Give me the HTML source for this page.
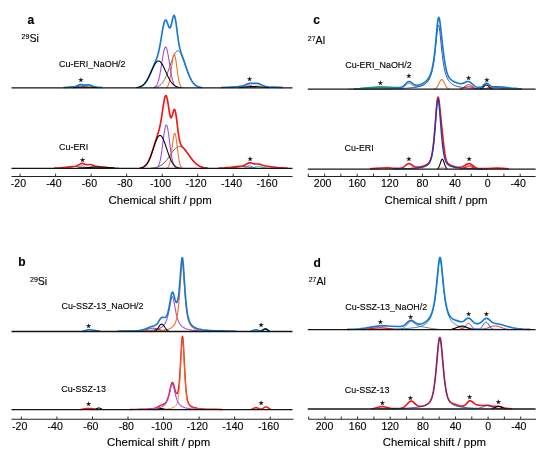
<!DOCTYPE html>
<html><head><meta charset="utf-8"><title>NMR spectra</title>
<style>
html,body{margin:0;padding:0;background:#fff;}
svg{display:block}
text{font-family:"Liberation Sans",Arial,sans-serif;fill:#000;stroke:#000;stroke-width:0.12px}
.tl{font-size:10.55px}
.ti{font-size:11.4px}
.pl{font-size:12px;font-weight:bold;fill:#000}
.iso{font-size:10.6px}
.sup{font-size:7.0px}
.sl{font-size:8.95px}
.st{font-family:"DejaVu Sans","Liberation Sans",sans-serif;font-size:6.4px;fill:#111}
</style></head><body>
<svg width="550" height="456" viewBox="0 0 550 456">
<rect width="550" height="456" fill="#fff"/>
<path d="M64.0 87.60L70.0 86.74L72.0 86.53L73.5 86.51L75.5 86.67L81.0 87.50L82.0 87.60" fill="none" stroke="#1fa03c" stroke-width="1.0" stroke-linejoin="round"/>
<path d="M76.0 87.53L77.0 87.22L79.0 86.30L79.5 86.10L80.0 85.96L80.5 85.90L81.0 85.93L81.5 86.04L82.0 86.21L84.0 87.14L85.0 87.48L85.5 87.59" fill="none" stroke="#d630c8" stroke-width="1.0" stroke-linejoin="round"/>
<path d="M84.0 87.59L85.0 87.35L86.0 86.97L87.5 86.34L88.0 86.20L88.5 86.11L89.0 86.11L89.5 86.17L90.0 86.31L92.0 87.13L93.0 87.46L93.5 87.58" fill="none" stroke="#e6d81c" stroke-width="1.0" stroke-linejoin="round"/>
<path d="M228.0 87.59L234.0 86.87L238.5 86.23L241.0 86.10L243.5 86.23L249.5 87.10L254.0 87.59" fill="none" stroke="#1fa03c" stroke-width="1.0" stroke-linejoin="round"/>
<path d="M242.5 87.61L243.5 87.41L244.5 87.09L245.5 86.65L247.5 85.64L248.0 85.44L248.5 85.29L249.0 85.21L249.5 85.21L250.0 85.27L250.5 85.40L251.0 85.59L253.5 86.84L254.5 87.24L255.5 87.50L256.0 87.59" fill="none" stroke="#d630c8" stroke-width="1.0" stroke-linejoin="round"/>
<path d="M251.5 87.58L252.5 87.37L253.5 87.04L256.0 85.89L256.5 85.69L257.0 85.53L257.5 85.43L258.0 85.40L258.5 85.43L259.0 85.53L259.5 85.69L262.5 87.04L263.5 87.37L264.5 87.58" fill="none" stroke="#e6d81c" stroke-width="1.0" stroke-linejoin="round"/>
<path d="M153.0 87.61L155.0 87.37L156.5 87.04L157.5 86.71L158.5 86.27L159.5 85.69L160.0 85.34L160.5 84.94L161.0 84.49L161.5 83.99L162.0 83.43L162.5 82.81L163.0 82.12L163.5 81.37L164.0 80.55L164.5 79.66L165.0 78.69L165.5 77.66L166.0 76.56L166.5 75.39L167.0 74.16L167.5 72.87L168.0 71.53L169.0 68.73L171.5 61.46L172.0 60.06L172.5 58.71L173.0 57.42L173.5 56.21L174.0 55.10L174.5 54.09L175.0 53.20L175.5 52.44L176.0 51.81L176.5 51.33L177.0 51L177.5 50.83L178.0 50.81L178.5 50.95L179.0 51.25L179.5 51.70L180.0 52.30L180.5 53.04L181.0 53.90L181.5 54.89L182.0 55.98L182.5 57.17L183.0 58.44L183.5 59.78L184.5 62.60L186.5 68.44L187.5 71.26L188.0 72.61L188.5 73.91L189.0 75.15L189.5 76.33L190.0 77.45L190.5 78.49L191.0 79.47L191.5 80.38L192.0 81.21L192.5 81.98L193.0 82.68L193.5 83.31L194.0 83.88L194.5 84.40L195.0 84.86L195.5 85.27L196.0 85.63L197.0 86.22L198.0 86.67L199.0 87.01L200.5 87.35L202.5 87.60" fill="none" stroke="#606060" stroke-width="1.0" stroke-linejoin="round"/>
<path d="M166.0 87.54L166.5 87.33L167.0 87L167.5 86.49L168.0 85.71L168.5 84.58L169.0 83.04L169.5 80.99L170.0 78.41L170.5 75.32L171.0 71.79L172.0 64.17L172.5 60.60L173.0 57.60L173.5 55.46L174.0 54.40L174.5 54.52L175.0 55.81L175.5 58.14L176.0 61.28L176.5 64.93L177.0 68.77L177.5 72.53L178.0 75.98L178.5 78.97L179.0 81.44L179.5 83.38L180.0 84.84L180.5 85.89L181.0 86.61L181.5 87.08L182.0 87.38L182.5 87.57" fill="none" stroke="#f27324" stroke-width="1.1" stroke-linejoin="round"/>
<path d="M153.5 87.53L154.0 87.39L154.5 87.20L155.0 86.93L155.5 86.56L156.0 86.06L156.5 85.40L157.0 84.56L157.5 83.48L158.0 82.15L158.5 80.53L159.0 78.61L159.5 76.38L160.0 73.85L160.5 71.05L161.0 68.03L161.5 64.85L162.0 61.62L162.5 58.44L163.0 55.43L163.5 52.72L164.0 50.42L164.5 48.66L165.0 47.50L165.5 47.01L166.0 47.22L166.5 48.12L167.0 49.65L167.5 51.74L168.0 54.30L168.5 57.21L169.0 60.33L170.0 66.77L170.5 69.86L171.0 72.76L171.5 75.41L172.0 77.76L172.5 79.80L173.0 81.54L173.5 82.98L174.0 84.15L174.5 85.09L175.0 85.82L175.5 86.38L176.0 86.79L176.5 87.10L177.0 87.32L177.5 87.48L178.0 87.59" fill="none" stroke="#a64fd6" stroke-width="1.1" stroke-linejoin="round"/>
<path d="M63.5 87.49L69.5 87.23L73.0 86.98L74.5 86.73L75.5 86.45L76.5 86.07L78.5 85.14L79.5 84.77L80.0 84.65L80.5 84.58L81.0 84.57L81.5 84.61L84.0 85.12L85.0 85.19L86.0 85.12L87.5 84.89L88.5 84.83L89.0 84.87L89.5 84.95L90.0 85.08L91.0 85.45L93.0 86.33L94.0 86.68L95.0 86.93L96.5 87.16L102.5 87.49M137.0 87.48L138.5 87.22L139.5 86.96L140.5 86.60L141.5 86.12L142.5 85.50L143.0 85.13L143.5 84.70L144.0 84.23L144.5 83.71L145.0 83.13L145.5 82.50L146.0 81.81L146.5 81.06L147.0 80.25L147.5 79.39L148.0 78.47L148.5 77.51L149.0 76.49L150.0 74.34L151.5 70.91L155.0 62.67L155.5 61.45L156.0 60.19L156.5 58.85L157.0 57.41L157.5 55.85L158.0 54.12L158.5 52.21L159.0 50.08L159.5 47.73L160.0 45.17L160.5 42.40L161.0 39.48L162.0 33.42L162.5 30.46L163.0 27.68L163.5 25.19L164.0 23.10L164.5 21.50L165.0 20.45L165.5 19.99L166.0 20.10L166.5 20.74L167.0 21.81L167.5 23.18L168.0 24.67L168.5 26.07L169.0 27.19L169.5 27.84L170.0 27.86L170.5 27.20L171.0 25.86L171.5 23.96L172.0 21.72L172.5 19.42L173.0 17.40L173.5 15.96L174.0 15.38L174.5 15.80L175.0 17.26L175.5 19.68L176.0 22.87L176.5 26.56L177.5 34.40L178.0 38.08L178.5 41.41L179.0 44.33L179.5 46.84L180.0 48.99L180.5 50.85L181.0 52.49L181.5 54L183.5 59.65L186.5 68.42L187.5 71.25L188.0 72.60L188.5 73.90L189.0 75.15L189.5 76.33L190.0 77.44L190.5 78.49L191.0 79.46L191.5 80.37L192.0 81.21L192.5 81.97L193.0 82.67L193.5 83.30L194.0 83.88L194.5 84.39L195.0 84.85L195.5 85.26L196.0 85.62L197.0 86.21L198.0 86.66L199.0 86.99L200.5 87.33L201.5 87.47M221.0 87.49L227.0 87.28L233.0 87.01L239.0 86.65L241.0 86.38L242.5 86.01L244.0 85.46L247.0 84.07L248.0 83.69L249.0 83.43L250.0 83.31L254.5 83.38L256.5 83.33L257.5 83.39L258.5 83.58L259.5 83.90L263.5 85.74L264.5 86.10L266.0 86.49L268.0 86.78L274.0 87.15L280.0 87.39L283.0 87.49" fill="none" stroke="#1479d3" stroke-width="1.65" stroke-linejoin="round"/>
<path d="M73.0 87.61L79.0 87.19L84.5 86.90L90.5 87.15L96.5 87.59L97.0 87.61M136.0 87.59L138.0 87.32L139.0 87.10L140.0 86.80L141.0 86.38L142.0 85.83L142.5 85.50L143.0 85.13L143.5 84.70L144.0 84.23L144.5 83.71L145.0 83.14L145.5 82.50L146.0 81.81L146.5 81.07L147.0 80.26L147.5 79.41L148.0 78.49L148.5 77.53L149.5 75.48L152.5 68.83L153.0 67.75L153.5 66.72L154.0 65.73L154.5 64.81L155.0 63.97L155.5 63.22L156.0 62.56L156.5 62.01L157.0 61.57L157.5 61.26L158.0 61.06L158.5 61L159.0 61.06L159.5 61.26L160.0 61.57L160.5 62.01L161.0 62.56L161.5 63.22L162.0 63.97L162.5 64.81L163.0 65.73L163.5 66.72L164.0 67.75L165.0 69.93L167.0 74.40L168.0 76.53L168.5 77.53L169.0 78.49L169.5 79.41L170.0 80.26L170.5 81.07L171.0 81.81L171.5 82.50L172.0 83.14L172.5 83.71L173.0 84.23L173.5 84.70L174.0 85.13L174.5 85.50L175.5 86.13L176.5 86.60L177.5 86.96L179.0 87.32L181.0 87.59M239.0 87.61L245.0 87.15L251.0 86.60L255.0 86.51L261.0 86.95L267.0 87.49L269.0 87.61" fill="none" stroke="#000000" stroke-width="1.05" stroke-linejoin="round"/>
<path d="M11.5 87.80H292.5" stroke="#151515" stroke-width="1.3" fill="none"/>
<path d="M63.5 168.18L66.5 167.82L72.5 166.69L74.0 166.53L75.5 166.51L77.0 166.62L83.0 167.74L86.5 168.18" fill="none" stroke="#1fa03c" stroke-width="1.0" stroke-linejoin="round"/>
<path d="M77.0 168.14L77.5 167.99L78.0 167.80L78.5 167.55L80.5 166.28L81.0 166.03L81.5 165.86L82.0 165.80L82.5 165.86L83.0 166.03L83.5 166.28L85.0 167.26L85.5 167.55L86.0 167.80L86.5 167.99L87.0 168.14" fill="none" stroke="#d630c8" stroke-width="1.0" stroke-linejoin="round"/>
<path d="M82.0 168.20L88.0 167.50L91.5 167.03L93.5 166.91L95.5 166.95L101.5 167.72L106.0 168.20" fill="none" stroke="#19b4c4" stroke-width="1.0" stroke-linejoin="round"/>
<path d="M229.5 168.20L234.0 167.70L240.0 166.70L242.0 166.52L244.0 166.52L246.5 166.77L252.5 167.78L256.5 168.20" fill="none" stroke="#1fa03c" stroke-width="1.0" stroke-linejoin="round"/>
<path d="M244.0 168.17L244.5 168.05L245.0 167.89L245.5 167.69L246.5 167.16L248.0 166.27L248.5 166.03L249.0 165.87L249.5 165.80L250.0 165.83L250.5 165.96L251.0 166.16L253.0 167.33L253.5 167.59L254.0 167.81L254.5 167.99L255.0 168.12" fill="none" stroke="#a64fd6" stroke-width="1.0" stroke-linejoin="round"/>
<path d="M249.5 168.20L251.5 167.91L256.5 166.70L257.5 166.55L258.5 166.50L259.5 166.55L261.0 166.80L265.0 167.81L267.0 168.14L267.5 168.20" fill="none" stroke="#19b4c4" stroke-width="1.0" stroke-linejoin="round"/>
<path d="M151.0 168.20L154.0 167.88L156.0 167.49L157.5 167.06L159.0 166.47L160.0 165.96L161.0 165.37L162.0 164.67L163.0 163.86L164.0 162.94L165.0 161.91L166.0 160.77L167.0 159.54L168.5 157.54L172.0 152.60L173.0 151.26L174.0 150.02L175.0 148.91L175.5 148.42L176.0 147.97L176.5 147.58L177.0 147.24L177.5 146.95L178.0 146.72L178.5 146.55L179.0 146.45L179.5 146.40L180.0 146.42L180.5 146.50L181.0 146.65L181.5 146.85L182.0 147.11L182.5 147.43L183.0 147.81L183.5 148.24L184.0 148.71L185.0 149.78L186.0 151L187.5 153.01L191.0 157.95L192.5 159.92L193.5 161.13L194.5 162.23L195.5 163.23L196.5 164.12L197.5 164.89L198.5 165.56L199.5 166.12L200.5 166.60L202.0 167.16L203.5 167.57L205.5 167.93L208.5 168.22" fill="none" stroke="#606060" stroke-width="1.0" stroke-linejoin="round"/>
<path d="M166.5 168.20L167.0 168.03L167.5 167.75L168.0 167.29L168.5 166.58L169.0 165.52L169.5 164.01L170.0 161.98L170.5 159.35L171.0 156.14L171.5 152.40L172.0 148.32L172.5 144.15L173.0 140.22L173.5 136.90L174.0 134.50L174.5 133.31L175.0 133.44L175.5 134.89L176.0 137.50L176.5 140.97L177.0 144.98L177.5 149.16L178.0 153.18L178.5 156.82L179.0 159.93L179.5 162.43L180.0 164.35L180.5 165.76L181.0 166.74L181.5 167.40L182.0 167.82L182.5 168.08" fill="none" stroke="#f27324" stroke-width="1.1" stroke-linejoin="round"/>
<path d="M155.5 168.19L156.0 168.05L156.5 167.85L157.0 167.56L157.5 167.12L158.0 166.52L158.5 165.68L159.0 164.56L159.5 163.11L160.0 161.27L160.5 159.01L161.0 156.31L161.5 153.18L162.0 149.67L162.5 145.87L163.5 137.97L164.0 134.22L164.5 130.87L165.0 128.12L165.5 126.15L166.0 125.08L166.5 124.98L167.0 125.86L167.5 127.66L168.0 130.27L168.5 133.51L169.0 137.20L169.5 141.12L170.0 145.09L170.5 148.93L171.0 152.50L171.5 155.71L172.0 158.50L172.5 160.85L173.0 162.78L173.5 164.30L174.0 165.48L174.5 166.37L175.0 167.02L175.5 167.48L176.0 167.80L176.5 168.02L177.0 168.16" fill="none" stroke="#a64fd6" stroke-width="1.1" stroke-linejoin="round"/>
<path d="M54.0 168.10L60.0 167.75L66.0 167.20L72.0 166.56L75.0 166.20L76.0 166.02L77.0 165.74L78.0 165.31L80.5 163.85L81.0 163.62L81.5 163.47L82.0 163.39L82.5 163.41L83.0 163.51L83.5 163.67L85.0 164.30L85.5 164.47L86.0 164.60L86.5 164.67L87.0 164.70L89.5 164.50L90.5 164.54L91.5 164.74L95.0 166.03L96.5 166.44L102.5 167.26L108.5 167.78L114.0 168.10M140.0 168.07L141.0 167.88L142.0 167.61L143.0 167.21L143.5 166.96L144.0 166.66L144.5 166.32L145.0 165.92L145.5 165.46L146.0 164.93L146.5 164.33L147.0 163.66L147.5 162.90L148.0 162.06L148.5 161.14L149.0 160.13L149.5 159.03L150.0 157.85L150.5 156.58L151.0 155.24L151.5 153.82L152.0 152.35L153.0 149.26L155.5 141.27L157.5 135.08L158.0 133.49L158.5 131.81L159.0 130.01L159.5 128.03L160.0 125.84L160.5 123.38L161.0 120.65L161.5 117.66L162.0 114.43L163.0 107.63L163.5 104.33L164.0 101.32L164.5 98.78L165.0 96.88L165.5 95.78L166.0 95.57L166.5 96.28L167.0 97.89L167.5 100.26L168.0 103.21L169.0 109.80L169.5 112.82L170.0 115.29L170.5 116.95L171.0 117.67L171.5 117.44L172.0 116.36L172.5 114.69L173.0 112.77L173.5 110.99L174.0 109.77L174.5 109.41L175.0 110.11L175.5 111.93L176.0 114.75L176.5 118.35L177.0 122.40L177.5 126.60L178.0 130.63L178.5 134.29L179.0 137.43L179.5 140.01L180.0 142.04L180.5 143.60L181.0 144.78L181.5 145.69L182.0 146.41L182.5 147.01L184.5 149.17L185.5 150.35L186.5 151.64L191.0 157.95L192.5 159.92L193.5 161.12L194.5 162.23L195.5 163.23L196.5 164.11L197.5 164.88L198.5 165.55L199.5 166.11L200.5 166.58L202.0 167.14L203.5 167.54L205.5 167.89L207.5 168.09M218.5 168.09L224.5 167.77L230.5 167.27L236.5 166.62L241.5 166.01L243.0 165.70L244.0 165.39L245.0 164.96L247.5 163.53L248.0 163.27L248.5 163.06L249.0 162.90L249.5 162.81L250.0 162.78L250.5 162.82L251.0 162.92L253.5 163.68L254.5 163.86L258.0 163.99L259.0 164.15L260.5 164.56L263.5 165.57L265.5 166.05L271.5 166.84L277.5 167.45L283.5 167.90L287.5 168.09" fill="none" stroke="#f21515" stroke-width="1.65" stroke-linejoin="round"/>
<path d="M79.0 168.20L85.0 167.86L91.0 167.37L97.0 167.03L103.0 167.10L109.0 167.53L115.0 167.99L119.0 168.20M139.0 168.20L140.5 167.99L141.5 167.76L142.5 167.44L143.5 166.97L144.0 166.68L144.5 166.34L145.0 165.94L145.5 165.48L146.0 164.96L146.5 164.37L147.0 163.71L147.5 162.96L148.0 162.14L148.5 161.23L149.0 160.23L149.5 159.15L150.0 157.99L150.5 156.75L151.0 155.44L151.5 154.06L152.0 152.63L154.5 145.12L155.0 143.67L155.5 142.28L156.0 140.96L156.5 139.75L157.0 138.66L157.5 137.70L158.0 136.89L158.5 136.25L159.0 135.78L159.5 135.50L160.0 135.40L160.5 135.50L161.0 135.78L161.5 136.25L162.0 136.89L162.5 137.70L163.0 138.66L163.5 139.75L164.0 140.96L164.5 142.28L165.0 143.67L165.5 145.12L167.5 151.16L168.0 152.63L168.5 154.06L169.0 155.44L169.5 156.75L170.0 157.99L170.5 159.15L171.0 160.23L171.5 161.23L172.0 162.14L172.5 162.96L173.0 163.71L173.5 164.37L174.0 164.96L174.5 165.48L175.0 165.94L175.5 166.34L176.0 166.68L176.5 166.97L177.5 167.44L178.5 167.76L180.0 168.07L181.0 168.20" fill="none" stroke="#000000" stroke-width="1.05" stroke-linejoin="round"/>
<path d="M11.5 168.40H292.5" stroke="#151515" stroke-width="1.3" fill="none"/>
<path d="M138.5 331.32L141.0 331.05L143.0 330.68L149.0 328.84L150.5 328.46L151.5 328.29L152.5 328.21L153.5 328.22L154.5 328.32L156.0 328.62L162.0 330.48L164.0 330.92L166.5 331.26L167.0 331.30" fill="none" stroke="#5a2a3a" stroke-width="0.9" stroke-linejoin="round"/>
<path d="M119.5 331.30L125.5 331.25L131.5 331.17L137.5 331.04L143.5 330.84L149.5 330.46L154.0 329.91L156.5 329.40L158.0 328.97L159.5 328.40L160.5 327.90L161.5 327.29L162.0 326.93L162.5 326.52L163.0 326.05L163.5 325.52L164.0 324.92L164.5 324.23L165.0 323.44L165.5 322.53L166.0 321.47L166.5 320.25L167.0 318.83L167.5 317.20L168.0 315.31L168.5 313.16L169.0 310.73L169.5 308.08L170.5 302.48L171.0 299.93L171.5 297.94L172.0 296.80L172.5 296.69L173.0 297.64L173.5 299.48L174.0 301.94L174.5 304.71L175.0 307.52L175.5 310.22L176.0 312.69L176.5 314.90L177.0 316.84L177.5 318.53L178.0 319.98L178.5 321.24L179.0 322.33L179.5 323.27L180.0 324.08L180.5 324.79L181.0 325.41L181.5 325.95L182.0 326.43L182.5 326.85L183.0 327.22L184.0 327.85L185.0 328.35L186.5 328.93L188.5 329.49L192.0 330.12L198.0 330.67L204.0 330.95L210.0 331.11L216.0 331.21L222.0 331.28L225.0 331.30" fill="none" stroke="#a64fd6" stroke-width="1.1" stroke-linejoin="round"/>
<path d="M135.5 331.28L141.5 331.21L147.5 331.10L153.5 330.92L159.5 330.59L164.0 330.10L166.5 329.63L168.0 329.24L169.5 328.70L170.5 328.24L171.5 327.65L172.0 327.29L172.5 326.89L173.0 326.42L173.5 325.87L174.0 325.22L174.5 324.45L175.0 323.52L175.5 322.37L176.0 320.94L176.5 319.15L177.0 316.91L177.5 314.09L178.0 310.58L178.5 306.26L179.0 301.05L179.5 294.91L180.0 287.93L180.5 280.39L181.0 272.96L181.5 266.69L182.0 262.87L182.5 262.50L183.0 265.69L183.5 271.57L184.0 278.87L184.5 286.45L185.0 293.58L185.5 299.90L186.0 305.30L186.5 309.78L187.0 313.45L187.5 316.39L188.0 318.75L188.5 320.62L189.0 322.11L189.5 323.31L190.0 324.28L190.5 325.08L191.0 325.75L191.5 326.31L192.0 326.80L192.5 327.22L193.0 327.58L194.0 328.19L195.0 328.66L196.5 329.21L198.5 329.72L202.5 330.34L208.5 330.81L214.5 331.04L220.5 331.17L226.5 331.25L229.0 331.28" fill="none" stroke="#f27324" stroke-width="1.2" stroke-linejoin="round"/>
<path d="M82.5 331.20L84.0 330.92L87.0 330.05L88.0 329.84L89.0 329.75L90.0 329.78L96.0 330.69L99.5 331.13L100.0 331.17M117.5 331.20L123.5 331.13L129.5 331.02L135.5 330.83L139.0 330.53L141.5 330.11L143.5 329.58L146.0 328.66L150.0 327.02L154.0 325.81L154.5 325.63L155.0 325.41L155.5 325.12L156.0 324.77L156.5 324.33L157.0 323.80L157.5 323.18L158.0 322.47L159.5 320.07L160.0 319.31L160.5 318.63L161.0 318.07L161.5 317.65L162.0 317.39L162.5 317.28L163.0 317.28L164.0 317.45L164.5 317.51L165.0 317.46L165.5 317.25L166.0 316.82L166.5 316.13L167.0 315.14L167.5 313.81L168.0 312.13L168.5 310.09L169.0 307.69L169.5 304.98L170.0 302.05L170.5 299.08L171.0 296.31L171.5 294.03L172.0 292.55L172.5 292.05L173.0 292.54L173.5 293.84L174.0 295.66L174.5 297.65L175.0 299.54L175.5 301.09L176.0 302.13L176.5 302.55L177.0 302.25L177.5 301.11L178.0 299.06L178.5 296.01L179.0 291.88L179.5 286.68L180.0 280.51L181.0 266.87L181.5 261.14L182.0 257.79L182.5 257.85L183.0 261.41L183.5 267.63L184.0 275.22L184.5 283.06L185.0 290.43L185.5 296.96L186.0 302.55L186.5 307.22L187.0 311.04L187.5 314.13L188.0 316.62L188.5 318.61L189.0 320.22L189.5 321.52L190.0 322.59L190.5 323.47L191.0 324.22L191.5 324.86L192.0 325.42L192.5 325.90L193.0 326.33L193.5 326.70L194.5 327.34L195.5 327.86L197.0 328.46L199.0 329.06L202.5 329.74L208.5 330.38L214.5 330.73L220.5 330.93L226.5 331.07L232.5 331.16L236.5 331.20M250.5 331.16L251.5 331L252.5 330.73L254.5 330.06L255.0 329.94L255.5 329.86L256.0 329.83L256.5 329.86L257.0 329.95L259.5 330.71L260.0 330.81L260.5 330.85L261.0 330.83L261.5 330.73L262.0 330.54L262.5 330.28L264.0 329.26L264.5 328.98L265.0 328.81L265.5 328.77L266.0 328.87L266.5 329.10L267.0 329.41L268.0 330.14L268.5 330.48L269.0 330.76L269.5 330.97L270.0 331.13" fill="none" stroke="#1479d3" stroke-width="1.65" stroke-linejoin="round"/>
<path d="M154.0 331.24L154.5 331.11L155.0 330.92L155.5 330.66L156.0 330.32L156.5 329.90L157.0 329.38L157.5 328.77L158.0 328.09L159.5 325.87L160.0 325.22L160.5 324.68L161.0 324.30L161.5 324.12L162.0 324.14L162.5 324.36L163.0 324.77L163.5 325.34L164.0 326.01L165.5 328.23L166.0 328.90L166.5 329.49L167.0 329.99L167.5 330.40L168.0 330.72L168.5 330.96L169.0 331.14L169.5 331.26M261.0 331.20L261.5 331.02L262.0 330.78L262.5 330.48L264.0 329.41L264.5 329.12L265.0 328.95L265.5 328.90L266.0 329L266.5 329.23L267.0 329.54L268.0 330.27L268.5 330.60L269.0 330.88L269.5 331.10L270.0 331.25" fill="none" stroke="#000000" stroke-width="1.05" stroke-linejoin="round"/>
<path d="M11.5 331.50H292.5" stroke="#151515" stroke-width="1.3" fill="none"/>
<path d="M80.5 409.44L86.5 408.49L88.0 408.35L89.5 408.35L91.5 408.58L96.0 409.32L97.0 409.42M129.5 409.44L135.5 409.35L141.5 409.21L147.5 408.97L153.0 408.54L154.5 408.31L155.5 408.07L156.5 407.72L157.5 407.23L160.0 405.67L161.0 405.15L163.5 404.26L164.0 404.02L164.5 403.70L165.0 403.29L165.5 402.76L166.0 402.10L166.5 401.28L167.0 400.30L167.5 399.13L168.0 397.75L168.5 396.13L169.0 394.28L169.5 392.21L170.0 389.97L170.5 387.67L171.0 385.52L171.5 383.77L172.0 382.68L172.5 382.43L173.0 383.03L173.5 384.32L174.0 386.04L174.5 387.92L175.0 389.73L175.5 391.30L176.0 392.53L176.5 393.32L177.0 393.56L177.5 393.08L178.0 391.68L178.5 389.11L179.0 385.11L179.5 379.50L180.0 372.23L180.5 363.57L181.0 354.15L181.5 345.22L182.0 338.60L182.5 336.26L183.0 339.12L183.5 346.28L184.0 355.77L184.5 365.78L185.0 375.08L185.5 383.04L186.0 389.42L186.5 394.28L187.0 397.83L187.5 400.34L188.0 402.10L188.5 403.34L189.0 404.23L189.5 404.90L190.0 405.43L190.5 405.85L191.0 406.21L191.5 406.51L192.5 407.01L193.5 407.39L195.0 407.82L198.0 408.38L204.0 408.93L210.0 409.19L216.0 409.34L222.0 409.43L222.5 409.44M250.5 409.41L251.5 409.20L252.5 408.87L254.5 408.01L255.0 407.85L255.5 407.75L256.0 407.71L256.5 407.75L257.0 407.85L258.0 408.21L259.5 408.82L260.0 408.97L260.5 409.05L261.0 409.07L261.5 409.02L262.0 408.88L262.5 408.67L263.0 408.40L264.5 407.42L265.0 407.16L265.5 406.99L266.0 406.93L266.5 406.99L267.0 407.17L267.5 407.44L269.0 408.45L269.5 408.76L270.0 409.01L270.5 409.22L271.0 409.37" fill="none" stroke="#f21515" stroke-width="1.45" stroke-linejoin="round"/>
<path d="M146.0 409.55L152.0 409.49L158.0 409.38L164.0 409.14L168.5 408.74L170.5 408.40L172.0 408.02L173.0 407.67L174.0 407.20L174.5 406.89L175.0 406.52L175.5 406.06L176.0 405.46L176.5 404.63L177.0 403.48L177.5 401.80L178.0 399.39L178.5 395.94L179.0 391.20L179.5 384.94L180.0 377.12L180.5 367.98L181.0 358.15L181.5 348.85L182.0 341.91L182.5 339.30L183.0 341.91L183.5 348.85L184.0 358.15L184.5 367.98L185.0 377.12L185.5 384.94L186.0 391.20L186.5 395.94L187.0 399.39L187.5 401.80L188.0 403.48L188.5 404.63L189.0 405.46L189.5 406.06L190.0 406.52L190.5 406.89L191.0 407.20L192.0 407.67L193.0 408.02L194.5 408.40L197.5 408.86L203.5 409.26L209.5 409.44L215.5 409.52L219.0 409.55" fill="none" stroke="#f27324" stroke-width="0.8" stroke-linejoin="round"/>
<path d="M130.0 409.50L136.0 409.43L142.0 409.32L148.0 409.11L154.0 408.67L157.0 408.25L159.0 407.82L160.5 407.36L161.5 406.96L162.5 406.44L163.0 406.13L163.5 405.78L164.0 405.38L164.5 404.91L165.0 404.38L165.5 403.75L166.0 403.03L166.5 402.18L167.0 401.19L167.5 400.04L168.0 398.68L168.5 397.12L169.0 395.33L169.5 393.33L170.5 388.98L171.0 386.94L171.5 385.31L172.0 384.36L172.5 384.27L173.0 385.06L173.5 386.57L174.0 388.55L175.0 392.91L175.5 394.94L176.0 396.78L176.5 398.39L177.0 399.78L177.5 400.98L178.0 402L178.5 402.87L179.0 403.62L179.5 404.26L180.0 404.81L180.5 405.29L181.0 405.70L181.5 406.07L182.5 406.66L183.5 407.13L185.0 407.66L187.0 408.14L191.0 408.71L197.0 409.13L203.0 409.33L209.0 409.44L214.5 409.50" fill="none" stroke="#a64fd6" stroke-width="1.1" stroke-linejoin="round"/>
<path d="M94.5 409.48L95.0 409.36L96.0 408.99L97.5 408.29L98.0 408.12L98.5 408.02L99.0 408.01L99.5 408.09L100.0 408.25L102.0 409.15L102.5 409.33L103.0 409.46M156.5 409.45L159.5 408.69L160.5 408.52L161.0 408.50L161.5 408.52L162.5 408.69L165.0 409.35L165.5 409.45" fill="none" stroke="#000000" stroke-width="1.05" stroke-linejoin="round"/>
<path d="M11.5 409.70H292.5" stroke="#151515" stroke-width="1.3" fill="none"/>
<path d="M348.3 89.07L354.3 89.06L360.3 89.03L366.3 89L372.3 88.97L378.3 88.92L384.3 88.85L390.3 88.76L396.3 88.62L399.3 88.46L400.3 88.32L401.3 88.10L402.3 87.74L402.8 87.51L403.3 87.22L403.8 86.90L404.8 86.14L406.3 84.87L406.8 84.48L407.3 84.13L407.8 83.86L408.3 83.66L408.8 83.56L409.3 83.55L409.8 83.63L410.3 83.80L410.8 84.04L411.8 84.66L413.3 85.68L413.8 85.97L414.3 86.22L414.8 86.43L415.3 86.58L415.8 86.69L416.8 86.79L417.8 86.74L418.8 86.59L420.3 86.23L421.8 85.71L422.8 85.29L423.8 84.77L424.8 84.16L425.8 83.41L426.3 82.97L426.8 82.48L427.3 81.94L427.8 81.33L428.3 80.64L428.8 79.87L429.3 78.99L429.8 78" fill="none" stroke="#606060" stroke-width="0.7" stroke-linejoin="round"/>
<path d="M459.8 88.95L460.8 88.73L461.8 88.38L462.8 87.88L463.8 87.23L465.8 85.72L466.3 85.38L466.8 85.08L467.3 84.85L467.8 84.69L468.3 84.61L468.8 84.62L469.3 84.71L469.8 84.89L470.3 85.14L470.8 85.45L473.3 87.30L474.3 87.93L475.3 88.42L476.3 88.75L477.3 88.96" fill="none" stroke="#f21515" stroke-width="1.0" stroke-linejoin="round"/>
<path d="M460.3 88.99L461.3 88.82L462.3 88.56L463.3 88.21L466.3 86.87L467.3 86.55L467.8 86.45L468.3 86.40L468.8 86.41L469.3 86.47L469.8 86.58L470.8 86.91L473.8 88.25L474.8 88.59L475.8 88.84L476.8 89" fill="none" stroke="#f21515" stroke-width="1.0" stroke-linejoin="round"/>
<path d="M479.3 89.03L484.3 88.55L490.3 87.65L492.8 87.43L495.3 87.43L499.3 87.87L505.3 88.75L508.8 89.03" fill="none" stroke="#f21515" stroke-width="0.9" stroke-linejoin="round"/>
<path d="M434.3 88.96L434.8 88.81L435.3 88.60L435.8 88.30L436.3 87.88L436.8 87.34L437.3 86.66L437.8 85.84L438.3 84.90L439.8 81.82L440.3 80.92L440.8 80.21L441.3 79.76L441.8 79.60L442.3 79.76L442.8 80.21L443.3 80.92L443.8 81.82L445.3 84.90L445.8 85.84L446.3 86.66L446.8 87.34L447.3 87.88L447.8 88.30L448.3 88.60L448.8 88.81L449.3 88.96" fill="none" stroke="#f27324" stroke-width="1.1" stroke-linejoin="round"/>
<path d="M359.3 89.04L365.3 89.01L371.3 88.97L377.3 88.93L383.3 88.86L389.3 88.78L395.3 88.65L401.3 88.47L407.3 88.16L413.3 87.62L417.3 86.99L419.8 86.39L421.3 85.91L422.8 85.29L423.8 84.77L424.8 84.16L425.8 83.41L426.3 82.97L426.8 82.48L427.3 81.94L427.8 81.33L428.3 80.64L428.8 79.87L429.3 78.99L429.8 78L430.3 76.86L430.8 75.56L431.3 74.06L431.8 72.33L432.3 70.33L432.8 68.02L433.3 65.33L433.8 62.23L434.3 58.66L434.8 54.60L435.3 50.05L435.8 45.10L436.3 39.91L436.8 34.82L437.3 30.30L437.8 26.91L438.3 25.16L438.8 25.36L439.3 27.47L439.8 31.13L440.3 35.81L441.3 46.11L441.8 51L442.3 55.45L442.8 59.42L443.3 62.89L443.8 65.90L444.3 68.51L444.8 70.76L445.3 72.70L445.8 74.38L446.3 75.83L446.8 77.10L447.3 78.21L447.8 79.18L448.3 80.03L448.8 80.79L449.3 81.46L449.8 82.05L450.3 82.58L450.8 83.06L451.3 83.49L452.3 84.22L453.3 84.83L454.3 85.33L455.8 85.94L457.8 86.56L461.3 87.28L467.3 87.99L473.3 88.36L479.3 88.59L485.3 88.73L491.3 88.83L497.3 88.90L503.3 88.96L509.3 89L515.8 89.03L517.8 89.04" fill="none" stroke="#1f3fb0" stroke-width="0.9" stroke-linejoin="round"/>
<path d="M353.8 88.90L359.8 88.61L365.8 88.12L371.8 87.54L377.8 87.12L383.8 87.07L389.8 87.33L395.8 87.60L398.8 87.58L399.8 87.49L400.8 87.30L401.3 87.16L401.8 86.98L402.3 86.74L402.8 86.46L403.3 86.12L403.8 85.73L404.3 85.28L406.3 83.23L406.8 82.74L407.3 82.32L407.8 81.97L408.3 81.72L408.8 81.58L409.3 81.55L409.8 81.64L410.3 81.83L410.8 82.11L411.3 82.46L413.3 84.03L413.8 84.37L414.3 84.66L414.8 84.89L415.3 85.07L415.8 85.19L416.3 85.26L416.8 85.28L417.8 85.19L418.8 84.99L420.3 84.53L421.8 83.91L422.8 83.41L423.8 82.83L424.8 82.14L425.8 81.33L426.3 80.86L426.8 80.34L427.3 79.76L427.8 79.12L428.3 78.41L428.8 77.60L429.3 76.70L429.8 75.67L430.3 74.51L430.8 73.18L431.3 71.65L431.8 69.89L432.3 67.86L432.8 65.50L433.3 62.76L433.8 59.57L434.3 55.89L434.8 51.66L435.3 46.88L435.8 41.59L436.8 30.32L437.3 25.10L437.8 20.87L438.3 18.16L438.8 17.32L439.3 18.35L439.8 20.98L440.3 24.74L440.8 29.14L441.8 38.52L442.3 43.11L442.8 47.49L443.3 51.64L443.8 55.51L444.3 59.09L444.8 62.36L445.3 65.28L445.8 67.85L446.3 70.09L446.8 71.99L447.3 73.60L447.8 74.94L448.3 76.06L448.8 76.99L449.3 77.76L449.8 78.42L450.3 78.98L450.8 79.46L451.3 79.88L452.3 80.59L453.3 81.19L454.8 81.92L456.8 82.73L458.3 83.21L459.3 83.45L460.3 83.59L461.3 83.59L461.8 83.54L462.3 83.44L463.3 83.13L465.8 81.97L466.3 81.77L466.8 81.60L467.3 81.50L467.8 81.46L468.3 81.49L468.8 81.61L469.3 81.80L469.8 82.07L470.3 82.40L471.3 83.21L473.3 85.01L474.3 85.79L474.8 86.12L475.3 86.41L475.8 86.66L476.8 87.04L477.8 87.27L478.8 87.37L479.8 87.33L480.3 87.25L480.8 87.11L481.3 86.92L481.8 86.65L482.3 86.31L482.8 85.90L484.3 84.44L484.8 83.99L485.3 83.62L485.8 83.37L486.3 83.26L486.8 83.30L487.3 83.49L487.8 83.80L488.3 84.19L489.8 85.47L490.3 85.83L490.8 86.13L491.3 86.36L491.8 86.53L492.3 86.65L493.3 86.77L499.3 86.91L505.3 87.44L511.3 88.13L517.8 88.69L521.8 88.89" fill="none" stroke="#1479d3" stroke-width="1.65" stroke-linejoin="round"/>
<path d="M354.3 88.95L360.3 88.63L366.3 88.13L372.3 87.62L378.3 87.32L384.3 87.41L390.3 87.83L396.3 88.36L397.8 88.48" fill="none" stroke="#1fa03c" stroke-width="1.3" stroke-linejoin="round"/>
<path d="M480.3 88.94L480.8 88.79L481.3 88.59L481.8 88.32L482.3 87.98L482.8 87.57L484.3 86.11L484.8 85.67L485.3 85.31L485.8 85.08L486.3 85L486.8 85.08L487.3 85.31L487.8 85.67L488.3 86.11L489.8 87.57L490.3 87.98L490.8 88.32L491.3 88.59L491.8 88.79L492.3 88.94" fill="none" stroke="#000000" stroke-width="1.05" stroke-linejoin="round"/>
<path d="M307.8 89.20H535.6" stroke="#151515" stroke-width="1.3" fill="none"/>
<path d="M437.8 168.93L438.8 168.69L439.8 168.30L440.8 167.85L441.3 167.67L441.8 167.54L442.3 167.50L442.8 167.54L443.3 167.67L445.3 168.51L446.3 168.83L446.8 168.93" fill="none" stroke="#ff8a8a" stroke-width="0.9" stroke-linejoin="round"/>
<path d="M459.8 168.91L460.8 168.75L461.8 168.51L462.8 168.16L463.8 167.71L466.3 166.37L467.3 165.93L467.8 165.77L468.3 165.66L468.8 165.60L469.3 165.61L469.8 165.68L470.3 165.80L470.8 165.97L471.8 166.42L474.3 167.76L475.3 168.20L476.3 168.54L477.3 168.77L478.3 168.92" fill="none" stroke="#f21515" stroke-width="0.9" stroke-linejoin="round"/>
<path d="M460.3 168.92L461.8 168.69L463.3 168.31L466.8 167.07L467.8 166.82L468.8 166.70L469.3 166.71L470.3 166.83L471.3 167.10L474.8 168.34L476.3 168.71L477.8 168.93" fill="none" stroke="#f21515" stroke-width="0.9" stroke-linejoin="round"/>
<path d="M369.8 168.79L375.8 168.41L381.8 168.01L387.8 167.94L393.8 168.22L398.3 168.37L399.8 168.31L400.8 168.17L401.8 167.91L402.3 167.72L402.8 167.48L403.3 167.20L403.8 166.87L404.8 166.11L406.3 164.85L406.8 164.46L407.3 164.14L407.8 163.88L408.3 163.71L408.8 163.63L409.3 163.65L409.8 163.76L410.3 163.96L410.8 164.22L413.3 165.96L413.8 166.27L414.3 166.53L414.8 166.75L415.3 166.92L415.8 167.05L416.8 167.18L417.8 167.18L419.3 167.02L421.3 166.63L423.3 166.08L424.8 165.52L425.8 165.05L426.8 164.47L427.3 164.12L427.8 163.71L428.3 163.24L428.8 162.68L429.3 161.99L429.8 161.15L430.3 160.10L430.8 158.78L431.3 157.12L431.8 155.04L432.3 152.46L432.8 149.29L433.3 145.47L433.8 140.95L434.3 135.73L434.8 129.86L435.3 123.48L435.8 116.83L436.3 110.29L436.8 104.44L437.3 99.93L437.8 97.38L438.3 97.14L438.8 99.10L439.3 102.74L439.8 107.38L440.8 117.45L441.3 122.37L441.8 127.17L442.8 136.63L443.3 141.26L443.8 145.67L444.3 149.71L444.8 153.23L445.3 156.15L445.8 158.46L446.3 160.21L446.8 161.51L447.3 162.47L447.8 163.18L448.3 163.73L448.8 164.16L449.3 164.52L450.3 165.10L451.3 165.56L452.8 166.11L455.3 166.77L457.3 167.12L458.8 167.27L459.8 167.28L460.8 167.19L461.8 166.97L462.8 166.60L463.8 166.08L466.3 164.44L466.8 164.15L467.3 163.91L467.8 163.72L468.3 163.60L468.8 163.55L469.3 163.59L469.8 163.71L470.3 163.90L470.8 164.16L471.3 164.47L474.3 166.76L475.3 167.40L476.3 167.88L477.3 168.23L478.3 168.45L479.8 168.63L485.8 168.63L491.8 168.25L496.8 168.05L502.8 168.36L508.8 168.80" fill="none" stroke="#f21515" stroke-width="1.65" stroke-linejoin="round"/>
<path d="M392.8 168.86L398.8 168.78L404.8 168.65L410.8 168.43L416.8 168.01L420.8 167.47L422.8 167.04L424.3 166.59L425.3 166.21L426.3 165.73L426.8 165.44L427.3 165.10L427.8 164.72L428.3 164.26L428.8 163.71L429.3 163.04L429.8 162.22L430.3 161.18L430.8 159.88L431.3 158.23L431.8 156.17L432.3 153.60L432.8 150.44L433.3 146.63L433.8 142.12L434.3 136.90L434.8 131.05L435.3 124.68L435.8 118.05L436.3 111.56L436.8 105.79L437.3 101.45L437.8 99.21L438.3 99.46L438.8 102.17L439.3 106.86L439.8 112.82L440.3 119.38L440.8 125.98L441.3 132.26L441.8 138L442.3 143.08L442.8 147.44L443.3 151.12L443.8 154.15L444.3 156.62L444.8 158.59L445.3 160.16L445.8 161.41L446.3 162.40L446.8 163.19L447.3 163.83L447.8 164.36L448.3 164.80L448.8 165.17L449.3 165.50L450.3 166.03L451.3 166.45L452.8 166.93L455.3 167.49L461.3 168.20L467.3 168.52L473.3 168.70L479.3 168.81L482.8 168.85" fill="none" stroke="#1f3fb0" stroke-width="1.35" stroke-linejoin="round"/>
<path d="M437.3 168.77L437.8 168.48L438.3 167.98L438.8 167.23L439.3 166.18L439.8 164.85L440.8 161.75L441.3 160.38L441.8 159.44L442.3 159.10L442.8 159.44L443.3 160.38L443.8 161.75L444.8 164.85L445.3 166.18L445.8 167.23L446.3 167.98L446.8 168.48L447.3 168.77" fill="none" stroke="#000000" stroke-width="1.05" stroke-linejoin="round"/>
<path d="M307.8 169.10H535.6" stroke="#151515" stroke-width="1.3" fill="none"/>
<path d="M396.3 329.54L399.3 329.31L400.8 329.04L401.8 328.75L402.8 328.32L403.3 328.05L403.8 327.73L404.3 327.35L404.8 326.93L405.3 326.46L406.3 325.42L407.8 323.74L408.3 323.22L408.8 322.74L409.3 322.34L409.8 322.02L410.3 321.79L410.8 321.66L411.3 321.64L411.8 321.71L412.3 321.88L412.8 322.13L413.3 322.45L415.8 324.41L416.8 325.10L417.8 325.66L418.8 326.07L419.8 326.36L425.8 327.40L431.8 328.53L437.3 329.26L441.8 329.55" fill="none" stroke="#606060" stroke-width="0.8" stroke-linejoin="round"/>
<path d="M460.8 329.48L461.3 329.36L461.8 329.20L462.3 328.98L462.8 328.70L463.3 328.34L463.8 327.89L464.3 327.38L464.8 326.80L466.3 324.91L466.8 324.35L467.3 323.89L467.8 323.57L468.3 323.41L468.8 323.43L469.3 323.62L469.8 323.97L470.3 324.46L470.8 325.03L472.3 326.92L472.8 327.49L473.3 327.99L473.8 328.41L474.3 328.76L474.8 329.03L475.3 329.24L475.8 329.39L476.3 329.50" fill="none" stroke="#f21515" stroke-width="0.9" stroke-linejoin="round"/>
<path d="M450.3 329.53L451.8 329.28L452.8 329.02L455.8 327.92L456.8 327.63L457.3 327.55L457.8 327.50L458.3 327.51L458.8 327.56L459.8 327.79L462.8 328.89L463.8 329.19L465.3 329.48" fill="none" stroke="#f21515" stroke-width="0.9" stroke-linejoin="round"/>
<path d="M480.3 329.52L482.8 329.24L484.8 328.83L486.8 328.23L491.3 326.57L492.8 326.15L493.8 325.98L494.8 325.90L495.8 325.93L496.8 326.07L498.3 326.44L503.8 328.43L505.8 328.97L507.8 329.33L509.8 329.53" fill="none" stroke="#f21515" stroke-width="0.9" stroke-linejoin="round"/>
<path d="M477.8 329.53L478.3 329.43L478.8 329.30L479.3 329.10L479.8 328.84L480.3 328.49L480.8 328.05L481.3 327.52L481.8 326.90L482.3 326.20L483.8 323.92L484.3 323.25L484.8 322.69L485.3 322.31L485.8 322.12L486.3 322.14L486.8 322.37L487.3 322.79L487.8 323.37L488.3 324.07L489.8 326.34L490.3 327.03L490.8 327.64L491.3 328.15L491.8 328.57L492.3 328.90L492.8 329.14L493.3 329.33L493.8 329.46" fill="none" stroke="#1f3fb0" stroke-width="0.9" stroke-linejoin="round"/>
<path d="M350.3 329.54L356.3 329.51L362.3 329.48L368.3 329.45L374.3 329.40L380.3 329.33L386.3 329.25L392.3 329.13L398.3 328.95L404.3 328.68L410.3 328.24L415.8 327.53L418.8 326.89L420.8 326.31L422.3 325.74L423.8 325.03L424.8 324.44L425.8 323.74L426.3 323.33L426.8 322.89L427.3 322.40L427.8 321.85L428.3 321.25L428.8 320.58L429.3 319.83L429.8 318.99L430.3 318.04L430.8 316.97L431.3 315.76L431.8 314.39L432.3 312.82L432.8 311.03L433.3 308.99L433.8 306.64L434.3 303.95L434.8 300.87L435.3 297.35L435.8 293.36L436.3 288.90L436.8 284.01L437.3 278.78L437.8 273.43L438.3 268.30L438.8 263.83L439.3 260.53L439.8 258.85L440.3 259.04L440.8 261.08L441.3 264.65L441.8 269.29L442.3 274.49L442.8 279.84L443.3 285.02L443.8 289.83L444.3 294.20L444.8 298.09L445.3 301.52L445.8 304.52L446.3 307.14L446.8 309.42L447.3 311.41L447.8 313.15L448.3 314.68L448.8 316.02L449.3 317.19L449.8 318.24L450.3 319.16L450.8 319.98L451.3 320.72L451.8 321.38L452.3 321.97L452.8 322.50L453.3 322.98L454.3 323.81L455.3 324.50L456.3 325.08L457.8 325.79L459.8 326.50L462.8 327.26L468.3 328.10L474.3 328.60L480.3 328.90L486.3 329.09L492.3 329.22L498.3 329.32L504.3 329.38L510.3 329.44L516.8 329.48L522.8 329.51L528.8 329.53L529.8 329.54" fill="none" stroke="#1479d3" stroke-width="0.9" stroke-linejoin="round"/>
<path d="M347.3 329.40L353.3 329.23L359.3 328.88L365.3 328.18L371.3 327.11L377.3 326.09L380.8 325.79L385.3 325.80L391.3 326.22L397.3 326.54L399.8 326.49L400.8 326.39L401.8 326.20L402.8 325.89L403.3 325.68L403.8 325.42L404.3 325.12L404.8 324.78L405.8 323.96L407.8 322.09L408.3 321.66L408.8 321.26L409.3 320.93L409.8 320.68L410.3 320.50L410.8 320.42L411.3 320.43L411.8 320.54L412.3 320.72L412.8 320.97L413.8 321.62L415.3 322.70L416.3 323.32L416.8 323.57L417.3 323.78L417.8 323.93L418.3 324.04L418.8 324.10L419.8 324.10L420.8 323.96L421.8 323.71L422.8 323.35L423.8 322.91L424.8 322.37L425.8 321.71L426.8 320.91L427.3 320.44L427.8 319.93L428.3 319.35L428.8 318.71L429.3 317.99L429.8 317.17L430.3 316.26L430.8 315.22L431.3 314.04L431.8 312.70L432.3 311.16L432.8 309.41L433.3 307.39L433.8 305.08L434.3 302.41L434.8 299.36L435.3 295.87L435.8 291.91L436.3 287.48L436.8 282.61L437.3 277.40L437.8 272.07L438.3 266.96L438.8 262.51L439.3 259.23L439.8 257.56L440.3 257.76L440.8 259.80L441.3 263.37L441.8 268.01L442.3 273.21L442.8 278.55L443.3 283.70L443.8 288.50L444.3 292.83L444.8 296.68L445.3 300.06L445.8 303L446.3 305.55L446.8 307.75L447.3 309.65L447.8 311.28L448.3 312.68L448.8 313.89L449.3 314.92L449.8 315.81L450.3 316.56L450.8 317.21L451.3 317.75L451.8 318.22L452.3 318.61L452.8 318.95L453.8 319.49L455.3 320.10L459.3 321.39L460.3 321.62L460.8 321.69L461.3 321.71L461.8 321.69L462.3 321.61L462.8 321.46L463.3 321.24L463.8 320.96L464.3 320.62L466.3 319.01L466.8 318.66L467.3 318.39L467.8 318.20L468.3 318.13L468.8 318.18L469.3 318.35L469.8 318.62L470.3 319L470.8 319.45L472.8 321.50L473.3 321.97L473.8 322.39L474.3 322.75L474.8 323.05L475.3 323.28L475.8 323.46L476.3 323.58L476.8 323.65L477.3 323.68L477.8 323.65L478.3 323.58L478.8 323.46L479.3 323.29L479.8 323.06L480.3 322.79L480.8 322.46L481.3 322.07L482.3 321.18L483.8 319.72L484.3 319.28L484.8 318.91L485.3 318.61L485.8 318.42L486.3 318.33L486.8 318.36L487.3 318.50L487.8 318.73L488.3 319.05L488.8 319.44L490.8 321.19L491.8 321.95L492.3 322.27L492.8 322.54L493.8 322.97L494.8 323.27L500.8 324.56L506.8 326.28L512.3 327.72L517.3 328.58L523.3 329.12L529.3 329.37L530.3 329.39" fill="none" stroke="#1479d3" stroke-width="1.65" stroke-linejoin="round"/>
<path d="M360.8 329.47L366.8 329L372.8 328.29L377.8 327.85L381.8 327.83L387.8 328.36L393.8 329.06L399.3 329.48" fill="none" stroke="#f21515" stroke-width="1.2" stroke-linejoin="round"/>
<path d="M449.8 329.50L451.8 329.21L453.3 328.86L454.8 328.37L458.8 326.74L459.8 326.42L460.8 326.20L461.8 326.10L462.8 326.14L463.8 326.32L464.8 326.60L469.3 328.41L470.8 328.89L472.3 329.23L474.3 329.50" fill="none" stroke="#000000" stroke-width="1.05" stroke-linejoin="round"/>
<path d="M307.8 329.70H535.6" stroke="#151515" stroke-width="1.3" fill="none"/>
<path d="M371.3 408.70L373.3 408.46L375.3 408.05L379.3 406.95L380.8 406.67L381.8 406.59L382.8 406.62L383.8 406.73L389.3 408.06L391.3 408.38L394.3 408.56L398.8 408.47L400.3 408.33L401.3 408.16L402.3 407.88L402.8 407.69L403.3 407.46L403.8 407.18L404.3 406.85L404.8 406.46L405.3 406.02L406.3 405.02L408.3 402.79L408.8 402.30L409.3 401.87L409.8 401.52L410.3 401.27L410.8 401.12L411.3 401.10L411.8 401.18L412.3 401.37L412.8 401.66L413.3 402.02L414.3 402.91L415.8 404.33L416.3 404.76L416.8 405.15L417.3 405.48L417.8 405.76L418.3 405.98L418.8 406.15L419.3 406.26L419.8 406.34L420.8 406.36L421.8 406.26L423.3 405.94L424.8 405.46L425.8 405.05L426.8 404.54L427.8 403.91L428.3 403.52L428.8 403.07L429.3 402.55L429.8 401.93L430.3 401.19L430.8 400.29L431.3 399.20L431.8 397.87L432.3 396.25L432.8 394.28L433.3 391.92L433.8 389.11L434.3 385.81L434.8 381.98L435.3 377.63L435.8 372.77L436.3 367.47L436.8 361.85L437.3 356.08L437.8 350.45L438.3 345.33L438.8 341.18L439.3 338.45L439.8 337.49L440.3 338.45L440.8 341.17L441.3 345.32L441.8 350.44L442.3 356.06L442.8 361.82L443.3 367.44L443.8 372.73L444.3 377.57L444.8 381.90L445.3 385.71L445.8 388.99L446.3 391.77L446.8 394.09L447.3 396.02L447.8 397.59L448.3 398.86L448.8 399.90L449.3 400.73L449.8 401.40L450.3 401.94L450.8 402.38L451.3 402.75L451.8 403.06L452.8 403.56L457.8 405.28L459.8 405.81L460.8 405.99L461.8 406.07L462.3 406.06L462.8 406.01L463.3 405.90L463.8 405.74L464.3 405.51L464.8 405.20L465.3 404.81L465.8 404.35L466.3 403.83L467.8 402.12L468.3 401.61L468.8 401.19L469.3 400.90L469.8 400.75L470.3 400.74L470.8 400.88L471.3 401.13L471.8 401.48L473.8 403.17L474.3 403.54L474.8 403.87L475.3 404.14L476.3 404.58L477.3 404.89L478.8 405.22L480.3 405.43L481.8 405.51L486.3 405.23L487.3 405.25L488.3 405.35L492.3 406.22L493.3 406.36L494.8 406.40L497.3 406.29L498.3 406.31L499.3 406.44L500.3 406.67L503.8 407.78L505.3 408.13L507.8 408.46L512.3 408.70" fill="none" stroke="#f21515" stroke-width="1.65" stroke-linejoin="round"/>
<path d="M378.3 408.82L384.3 408.77L390.3 408.70L396.3 408.58L402.3 408.39L408.3 408.09L414.3 407.60L419.3 406.91L422.3 406.26L424.3 405.66L425.8 405.05L426.8 404.54L427.8 403.91L428.3 403.52L428.8 403.08L429.3 402.55L429.8 401.93L430.3 401.19L430.8 400.29L431.3 399.20L431.8 397.87L432.3 396.25L432.8 394.28L433.3 391.92L433.8 389.11L434.3 385.81L434.8 381.98L435.3 377.63L435.8 372.77L436.3 367.47L436.8 361.85L437.3 356.08L437.8 350.45L438.3 345.34L438.8 341.19L439.3 338.46L439.8 337.50L440.3 338.45L440.8 341.18L441.3 345.34L441.8 350.45L442.3 356.08L442.8 361.84L443.3 367.47L443.8 372.77L444.3 377.63L444.8 381.98L445.3 385.80L445.8 389.10L446.3 391.91L446.8 394.28L447.3 396.24L447.8 397.86L448.3 399.19L448.8 400.28L449.3 401.18L449.8 401.92L450.3 402.54L450.8 403.06L451.3 403.51L451.8 403.90L452.8 404.53L453.8 405.04L455.3 405.64L457.3 406.25L460.8 406.98L466.8 407.73L472.8 408.17L476.3 408.26L478.3 408.15L479.8 407.92L481.3 407.53L484.8 406.20L485.8 405.89L486.8 405.71L487.3 405.67L487.8 405.67L488.8 405.80L489.8 406.08L493.8 407.72L495.3 408.19L496.8 408.50L499.3 408.74L502.3 408.82" fill="none" stroke="#1f3fb0" stroke-width="1.0" stroke-linejoin="round" stroke-opacity="0.85"/>
<path d="M491.3 408.76L492.3 408.56L493.3 408.26L494.8 407.65L496.3 406.97L497.3 406.61L497.8 406.49L498.3 406.42L498.8 406.40L499.3 406.44L499.8 406.53L500.8 406.85L503.3 407.96L504.3 408.33L505.3 408.61L506.3 408.79" fill="none" stroke="#000000" stroke-width="1.05" stroke-linejoin="round"/>
<path d="M307.8 409.00H535.6" stroke="#151515" stroke-width="1.3" fill="none"/>
<path d="M11.5 176.40H292.5" stroke="#222" stroke-width="1.05" fill="none"/><path d="M20.1 176.40v-2.7" stroke="#222" stroke-width="0.95" fill="none"/><path d="M55.6 176.40v-2.7" stroke="#222" stroke-width="0.95" fill="none"/><path d="M91.1 176.40v-2.7" stroke="#222" stroke-width="0.95" fill="none"/><path d="M126.6 176.40v-2.7" stroke="#222" stroke-width="0.95" fill="none"/><path d="M162.2 176.40v-2.7" stroke="#222" stroke-width="0.95" fill="none"/><path d="M197.7 176.40v-2.7" stroke="#222" stroke-width="0.95" fill="none"/><path d="M233.2 176.40v-2.7" stroke="#222" stroke-width="0.95" fill="none"/><path d="M268.7 176.40v-2.7" stroke="#222" stroke-width="0.95" fill="none"/><text x="18.4" y="186.8" class="tl" text-anchor="middle">-20</text><text x="53.9" y="186.8" class="tl" text-anchor="middle">-40</text><text x="89.4" y="186.8" class="tl" text-anchor="middle">-60</text><text x="124.9" y="186.8" class="tl" text-anchor="middle">-80</text><text x="160.5" y="186.8" class="tl" text-anchor="middle">-100</text><text x="196.0" y="186.8" class="tl" text-anchor="middle">-120</text><text x="231.5" y="186.8" class="tl" text-anchor="middle">-140</text><text x="267.0" y="186.8" class="tl" text-anchor="middle">-160</text><text x="160.2" y="203.7" class="ti" text-anchor="middle">Chemical shift / ppm</text>
<path d="M11.5 419.20H293.5" stroke="#222" stroke-width="1.05" fill="none"/><path d="M21.4 419.20v-2.7" stroke="#222" stroke-width="0.95" fill="none"/><path d="M56.9 419.20v-2.7" stroke="#222" stroke-width="0.95" fill="none"/><path d="M92.5 419.20v-2.7" stroke="#222" stroke-width="0.95" fill="none"/><path d="M128.0 419.20v-2.7" stroke="#222" stroke-width="0.95" fill="none"/><path d="M163.5 419.20v-2.7" stroke="#222" stroke-width="0.95" fill="none"/><path d="M199.1 419.20v-2.7" stroke="#222" stroke-width="0.95" fill="none"/><path d="M234.6 419.20v-2.7" stroke="#222" stroke-width="0.95" fill="none"/><path d="M270.2 419.20v-2.7" stroke="#222" stroke-width="0.95" fill="none"/><text x="19.7" y="430.2" class="tl" text-anchor="middle">-20</text><text x="55.2" y="430.2" class="tl" text-anchor="middle">-40</text><text x="90.8" y="430.2" class="tl" text-anchor="middle">-60</text><text x="126.3" y="430.2" class="tl" text-anchor="middle">-80</text><text x="161.8" y="430.2" class="tl" text-anchor="middle">-100</text><text x="197.4" y="430.2" class="tl" text-anchor="middle">-120</text><text x="232.9" y="430.2" class="tl" text-anchor="middle">-140</text><text x="268.5" y="430.2" class="tl" text-anchor="middle">-160</text><text x="158.6" y="445.5" class="ti" text-anchor="middle">Chemical shift / ppm</text>
<path d="M307.8 176.40H535.6" stroke="#222" stroke-width="1.05" fill="none"/><path d="M308.3 176.40v-2.7" stroke="#222" stroke-width="0.95" fill="none"/><path d="M324.6 176.40v-2.7" stroke="#222" stroke-width="0.95" fill="none"/><path d="M340.9 176.40v-2.7" stroke="#222" stroke-width="0.95" fill="none"/><path d="M357.2 176.40v-2.7" stroke="#222" stroke-width="0.95" fill="none"/><path d="M373.5 176.40v-2.7" stroke="#222" stroke-width="0.95" fill="none"/><path d="M389.8 176.40v-2.7" stroke="#222" stroke-width="0.95" fill="none"/><path d="M406.1 176.40v-2.7" stroke="#222" stroke-width="0.95" fill="none"/><path d="M422.4 176.40v-2.7" stroke="#222" stroke-width="0.95" fill="none"/><path d="M438.7 176.40v-2.7" stroke="#222" stroke-width="0.95" fill="none"/><path d="M455.0 176.40v-2.7" stroke="#222" stroke-width="0.95" fill="none"/><path d="M471.3 176.40v-2.7" stroke="#222" stroke-width="0.95" fill="none"/><path d="M487.6 176.40v-2.7" stroke="#222" stroke-width="0.95" fill="none"/><path d="M503.9 176.40v-2.7" stroke="#222" stroke-width="0.95" fill="none"/><path d="M520.2 176.40v-2.7" stroke="#222" stroke-width="0.95" fill="none"/><text x="322.6" y="186.8" class="tl" text-anchor="middle">200</text><text x="357.2" y="186.8" class="tl" text-anchor="middle">160</text><text x="389.8" y="186.8" class="tl" text-anchor="middle">120</text><text x="422.4" y="186.8" class="tl" text-anchor="middle">80</text><text x="455.0" y="186.8" class="tl" text-anchor="middle">40</text><text x="487.6" y="186.8" class="tl" text-anchor="middle">0</text><text x="518.2" y="186.8" class="tl" text-anchor="middle">-40</text><text x="436.0" y="203.7" class="ti" text-anchor="middle">Chemical shift / ppm</text>
<path d="M308.4 419.20H536.0" stroke="#222" stroke-width="1.05" fill="none"/><path d="M308.7 419.20v-2.7" stroke="#222" stroke-width="0.95" fill="none"/><path d="M325.0 419.20v-2.7" stroke="#222" stroke-width="0.95" fill="none"/><path d="M341.3 419.20v-2.7" stroke="#222" stroke-width="0.95" fill="none"/><path d="M357.6 419.20v-2.7" stroke="#222" stroke-width="0.95" fill="none"/><path d="M373.9 419.20v-2.7" stroke="#222" stroke-width="0.95" fill="none"/><path d="M390.2 419.20v-2.7" stroke="#222" stroke-width="0.95" fill="none"/><path d="M406.6 419.20v-2.7" stroke="#222" stroke-width="0.95" fill="none"/><path d="M422.9 419.20v-2.7" stroke="#222" stroke-width="0.95" fill="none"/><path d="M439.2 419.20v-2.7" stroke="#222" stroke-width="0.95" fill="none"/><path d="M455.5 419.20v-2.7" stroke="#222" stroke-width="0.95" fill="none"/><path d="M471.8 419.20v-2.7" stroke="#222" stroke-width="0.95" fill="none"/><path d="M488.1 419.20v-2.7" stroke="#222" stroke-width="0.95" fill="none"/><path d="M504.4 419.20v-2.7" stroke="#222" stroke-width="0.95" fill="none"/><path d="M520.7 419.20v-2.7" stroke="#222" stroke-width="0.95" fill="none"/><text x="324.5" y="430.2" class="tl" text-anchor="middle">200</text><text x="357.6" y="430.2" class="tl" text-anchor="middle">160</text><text x="390.2" y="430.2" class="tl" text-anchor="middle">120</text><text x="422.9" y="430.2" class="tl" text-anchor="middle">80</text><text x="455.5" y="430.2" class="tl" text-anchor="middle">40</text><text x="488.1" y="430.2" class="tl" text-anchor="middle">0</text><text x="518.8" y="430.2" class="tl" text-anchor="middle">-40</text><text x="434.4" y="445.5" class="ti" text-anchor="middle">Chemical shift / ppm</text>
<text x="27.5" y="23.7" class="pl" text-anchor="start">a</text>
<text x="18.3" y="266.0" class="pl" text-anchor="start">b</text>
<text x="313.3" y="24.1" class="pl" text-anchor="start">c</text>
<text x="313.5" y="266.8" class="pl" text-anchor="start">d</text>
<text x="21.6" y="42.0" class="iso"><tspan class="sup" dy="-2.7">29</tspan><tspan dy="2.7">Si</tspan></text>
<text x="30.0" y="284.5" class="iso"><tspan class="sup" dy="-2.7">29</tspan><tspan dy="2.7">Si</tspan></text>
<text x="307.8" y="43.6" class="iso"><tspan class="sup" dy="-2.7">27</tspan><tspan dy="2.7">Al</tspan></text>
<text x="308.7" y="284.8" class="iso"><tspan class="sup" dy="-2.7">27</tspan><tspan dy="2.7">Al</tspan></text>
<text x="59.0" y="66.7" class="sl" text-anchor="start">Cu-ERI_NaOH/2</text>
<text x="59.0" y="149.6" class="sl" text-anchor="start">Cu-ERI</text>
<text x="61.6" y="309.1" class="sl" text-anchor="start">Cu-SSZ-13_NaOH/2</text>
<text x="61.2" y="392.2" class="sl" text-anchor="start">Cu-SSZ-13</text>
<text x="345.2" y="67.9" class="sl" text-anchor="start">Cu-ERI_NaOH/2</text>
<text x="344.5" y="151.0" class="sl" text-anchor="start">Cu-ERI</text>
<text x="345.3" y="310.3" class="sl" text-anchor="start">Cu-SSZ-13_NaOH/2</text>
<text x="344.8" y="393.0" class="sl" text-anchor="start">Cu-SSZ-13</text>
<text x="80.9" y="81.8" class="st" text-anchor="middle">★</text>
<text x="249.5" y="80.7" class="st" text-anchor="middle">★</text>
<text x="82.5" y="161.7" class="st" text-anchor="middle">★</text>
<text x="250.0" y="160.7" class="st" text-anchor="middle">★</text>
<text x="88.5" y="327.7" class="st" text-anchor="middle">★</text>
<text x="261.0" y="326.9" class="st" text-anchor="middle">★</text>
<text x="88.7" y="406.4" class="st" text-anchor="middle">★</text>
<text x="261.0" y="404.9" class="st" text-anchor="middle">★</text>
<text x="380.4" y="84.9" class="st" text-anchor="middle">★</text>
<text x="408.9" y="78.0" class="st" text-anchor="middle">★</text>
<text x="468.5" y="79.8" class="st" text-anchor="middle">★</text>
<text x="486.8" y="81.6" class="st" text-anchor="middle">★</text>
<text x="408.8" y="160.6" class="st" text-anchor="middle">★</text>
<text x="469.0" y="161.1" class="st" text-anchor="middle">★</text>
<text x="380.4" y="324.2" class="st" text-anchor="middle">★</text>
<text x="410.7" y="318.7" class="st" text-anchor="middle">★</text>
<text x="468.5" y="316.0" class="st" text-anchor="middle">★</text>
<text x="486.3" y="316.0" class="st" text-anchor="middle">★</text>
<text x="382.4" y="405.2" class="st" text-anchor="middle">★</text>
<text x="410.4" y="399.8" class="st" text-anchor="middle">★</text>
<text x="469.7" y="399.2" class="st" text-anchor="middle">★</text>
<text x="498.4" y="403.7" class="st" text-anchor="middle">★</text>
</svg>
</body></html>
